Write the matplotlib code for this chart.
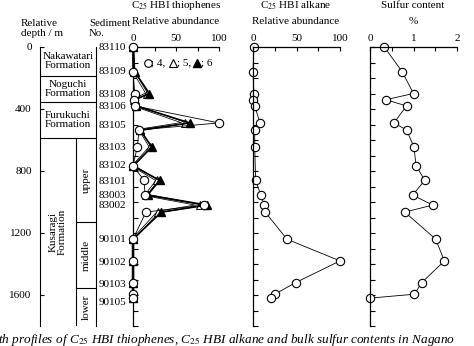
import numpy as np
import matplotlib
matplotlib.use("Agg")
import matplotlib.pyplot as plt
from matplotlib.ticker import FixedLocator

plt.rcParams['font.family'] = ['Liberation Serif', 'DejaVu Serif']
plt.rcParams['mathtext.fontset'] = 'stix'
plt.rcParams['font.size'] = 8

W, H = 474, 346

# sample depths (m) and values
depth = [0, 160, 300, 340, 380, 490, 535, 645, 767, 860, 955, 1020, 1065,
         1240, 1380, 1520, 1595, 1620]
thio4 = [0, 0, 2, 1, 2, 100, 7, 5, 0, 13, 14, 82, 15, 0, 0, 0, 0, 0]
thio5 = [0, 1, 16, 1, 3, 60, 8, 20, 0, 28, 15, 78, 29, 0, 0, 0, 0, 0]
thio6 = [0, 2, 19, 2, 3, 66, 8, 22, 0, 31, 17, 86, 33, 0, 0, 0, 0, 0]

alk_depth = [0, 160, 300, 340, 380, 490, 535, 645, 860, 955, 1020, 1065,
             1240, 1380, 1520, 1595, 1620]
alkane = [1, 0, 1, 0, 2, 8, 2, 2, 3, 9, 13, 14, 39, 100, 49, 25, 21]

sulfur = [0.33, 0.74, 1.0, 0.36, 0.84, 0.55, 0.84, 1.01, 1.06, 1.26, 0.98,
          1.44, 0.80, 1.51, 1.71, 1.19, 1.02, 0.0]

# sediment labels and where they are written
sed_names = ['83110', '83109', '83108', '83106', '83105', '83103', '83102',
             '83101', '83003', '83002', '90101', '90102', '90103', '90105']
sed_depth = [0, 160, 305, 385, 505, 650, 767, 870, 955, 1025, 1245, 1390,
             1530, 1650]

# formations
form_names = ['Nakawatari\nFormation', 'Noguchi\nFormation', 'Furukuchi\nFormation']
form_bounds = [0, 187, 355, 587]
kus_bounds = [587, 1129, 1555, 1800]
kus_sub = ['upper', 'middle', 'lower']

DMAX = 1800


def box(x0, y0, x1, y1):
    return [x0 / W, 1 - y1 / H, (x1 - x0) / W, (y1 - y0) / H]


def ftext(x, y, s, **kw):
    fig.text(x / W, 1 - y / H, s, **kw)


fig = plt.figure(figsize=(W / 100, H / 100), dpi=100)

# formation column with depth axis
axf = fig.add_axes(box(40, 47, 96, 326))
axf.patch.set_visible(False)
axf.set_ylim(DMAX, 0)
axf.set_xlim(0, 1)
axf.spines['top'].set_visible(False)
axf.spines['bottom'].set_visible(False)
for s in ['left', 'right']:
    axf.spines[s].set_linewidth(0.8)
axf.set_xticks([])
axf.set_yticks([0, 400, 800, 1200, 1600])
axf.tick_params(axis='y', direction='in', length=3, width=0.8, pad=6, labelsize=8)
for b in form_bounds[1:]:
    axf.plot([0, 1], [b, b], color='black', lw=0.8)
for i, name in enumerate(form_names):
    axf.text(0.5, (form_bounds[i] + form_bounds[i + 1]) / 2, name,
             ha='center', va='center', fontsize=8, linespacing=1.0)
xd = 0.643
axf.plot([xd, xd], [587, DMAX], color='black', lw=0.8)
for b in kus_bounds[1:3]:
    axf.plot([xd, 1], [b, b], color='black', lw=0.8)
for i, name in enumerate(kus_sub):
    axf.text(0.83, (kus_bounds[i] + kus_bounds[i + 1]) / 2, name, rotation=90,
             ha='center', va='center', fontsize=8)
axf.text(0.31, 1193, 'Kusaragi\nFormation', rotation=90, ha='center',
         va='center', fontsize=8, linespacing=1.0)
for name, d in zip(sed_names, sed_depth):
    axf.text(1.05, d, name, ha='left', va='center', fontsize=8, clip_on=False)


def panel(x0, x1, xmax, majors, minors, labels):
    ax = fig.add_axes(box(x0, 47, x1, 326))
    ax.patch.set_visible(False)
    ax.set_ylim(DMAX, 0)
    ax.set_xlim(0, xmax)
    ax.spines['right'].set_visible(False)
    ax.spines['bottom'].set_visible(False)
    ax.spines['left'].set_linewidth(0.9)
    ax.spines['top'].set_linewidth(0.9)
    ax.xaxis.tick_top()
    ax.set_xticks(majors)
    ax.set_xticklabels(labels)
    ax.xaxis.set_minor_locator(FixedLocator(minors))
    ax.set_yticks(np.arange(0, DMAX + 1, 100))
    ax.set_yticklabels([])
    ax.tick_params(axis='x', which='both', direction='in', length=3, width=0.8,
                   pad=3, labelsize=8)
    ax.tick_params(axis='y', direction='in', length=3.5, width=0.8)
    return ax


ax1 = panel(133, 219, 100, [0, 50, 100], [25, 75], ['0', '50', '100'])
ax2 = panel(253, 340, 100, [0, 50, 100], [25, 75], ['0', '50', '100'])
ax3 = panel(370, 457, 2, [0, 1, 2], [0.5, 1.5], ['0', '1', '2'])

# thiophenes
ax1.plot(thio5, depth, color='black', lw=1.8, zorder=2, clip_on=False)
ax1.plot(thio5, depth, color='white', lw=0.7, zorder=2.1, clip_on=False)
ax1.plot(thio5, depth, ls='none', marker='^', ms=5.5, mfc='white', mec='black',
         mew=0.7, zorder=3, clip_on=False)
ax1.plot(thio6, depth, color='black', lw=1.2, marker='^', ms=5.5, mfc='black',
         mec='black', zorder=4, clip_on=False)
ax1.plot(thio4, depth, color='black', lw=0.6, marker='o', ms=6, mfc='white',
         mec='black', mew=0.8, zorder=5, clip_on=False)

# legend inside thiophene panel
ly = 103
ax1.plot([17], [ly], marker='o', ms=5.5, mfc='white', mec='black', mew=0.8,
         clip_on=False)
ax1.text(21, ly, '; 4,', ha='left', va='center', fontsize=8)
ax1.plot([46], [ly], marker='^', ms=5.5, mfc='white', mec='black', mew=0.8,
         clip_on=False)
ax1.text(51, ly, '; 5,', ha='left', va='center', fontsize=8)
ax1.plot([74], [ly], marker='^', ms=5.5, mfc='black', mec='black',
         clip_on=False)
ax1.text(79, ly, '; 6', ha='left', va='center', fontsize=8)

# alkane
ax2.plot(alkane, alk_depth, color='black', lw=0.6, marker='o', ms=6,
         mfc='white', mec='black', mew=0.8, clip_on=False)

# sulfur
ax3.plot(sulfur, depth, color='black', lw=0.6, marker='o', ms=6,
         mfc='white', mec='black', mew=0.8, clip_on=False)

# headers
ftext(21, 23, 'Relative', ha='left', va='center', fontsize=8)
ftext(21, 34, 'depth / m', ha='left', va='center', fontsize=8)
ftext(89, 23, 'Sediment', ha='left', va='center', fontsize=7.8)
ftext(89, 34, 'No.', ha='left', va='center', fontsize=7.8)
ftext(176, 6, 'C$_{25}$ HBI thiophenes', ha='center', va='center', fontsize=8)
ftext(176, 21, 'Relative abundance', ha='center', va='center', fontsize=8)
ftext(296, 6, 'C$_{25}$ HBI alkane', ha='center', va='center', fontsize=8)
ftext(296, 21, 'Relative abundance', ha='center', va='center', fontsize=8)
ftext(413, 6, 'Sulfur content', ha='center', va='center', fontsize=8)
ftext(413, 21, '%', ha='center', va='center', fontsize=8)

# clipped caption at the bottom, as in the source page
ftext(-2, 343, 'th profiles of C$_{25}$ HBI thiophenes, C$_{25}$ HBI alkane and bulk sulfur contents in Nagano',
      ha='left', va='baseline', fontsize=9.5, style='italic')

fig.savefig('out.png', dpi=100)
